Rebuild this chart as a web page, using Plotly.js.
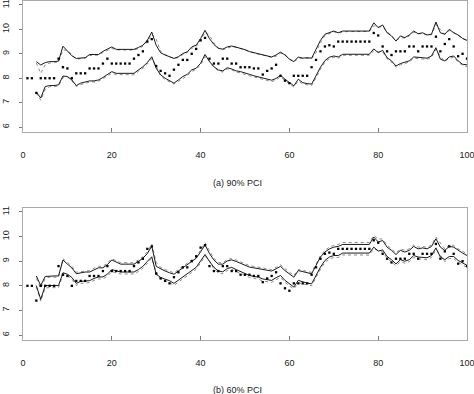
<!DOCTYPE html>
<html><head><meta charset="utf-8">
<script src="https://cdn.plot.ly/plotly-3.0.1.min.js"></script>
<style>html,body{margin:0;padding:0;background:#fff}#plot{width:474px;height:394px}</style>
</head><body><div id="plot"></div>
<script>
// time index
const t = Array.from({length: 100}, (_, i) => i + 1);
const tLine = t.slice(2); // intervals start at t = 3

// observed values (points), t = 1..100
const observed = [8.0,8.0,7.4,8.0,8.0,8.0,8.0,8.8,8.45,8.4,
8.0,8.2,8.2,8.2,8.4,8.4,8.4,8.6,8.8,8.6,
8.6,8.6,8.6,8.6,8.8,8.95,9.1,9.5,9.6,8.5,
8.3,8.2,8.1,8.35,8.55,8.75,8.75,9.0,9.2,9.55,
9.65,8.8,8.6,8.6,8.8,8.8,8.6,8.6,8.45,8.45,
8.45,8.4,8.4,8.15,8.3,8.4,8.55,8.1,7.9,7.8,
8.1,8.1,8.1,8.1,8.45,8.75,9.1,9.3,9.35,9.3,
9.5,9.5,9.5,9.5,9.5,9.5,9.5,9.5,9.85,9.75,
9.3,9.1,8.95,9.1,9.1,9.1,9.3,9.3,9.1,9.3,
9.3,9.3,9.7,9.1,9.4,9.6,9.3,8.9,9.0,8.8];

// (a) 90% PCI, t = 3..100
const upper90 = [8.68,8.54,8.64,8.68,8.68,8.7,9.31,9.1,8.92,8.81,
8.84,8.84,8.97,8.97,8.97,9.1,9.18,9.28,9.18,9.18,
9.18,9.18,9.18,9.26,9.35,9.55,9.89,9.35,9.04,8.95,
8.88,8.81,8.88,9.01,9.08,9.28,9.35,9.62,9.96,9.62,
9.38,9.22,9.19,9.28,9.32,9.28,9.23,9.17,9.09,9.05,
9.0,8.98,8.91,8.87,8.95,9.07,8.95,8.78,8.68,8.87,
8.82,8.84,8.82,9.2,9.55,9.8,9.87,9.93,9.86,9.93,
9.93,9.93,9.93,9.93,9.93,9.93,10.27,10.07,10.18,9.86,
9.73,9.52,9.73,9.66,9.77,9.93,9.82,9.86,9.77,9.8,
10.3,9.86,9.8,10.0,9.86,9.77,9.63,9.55];
const lower90 = [7.43,7.19,7.66,7.7,7.7,7.73,8.09,8.07,7.93,7.7,
7.8,7.84,7.89,7.89,7.93,8.03,8.14,8.27,8.2,8.2,
8.2,8.2,8.2,8.34,8.47,8.64,8.88,8.41,8.14,8.0,
7.91,7.8,7.93,8.07,8.16,8.34,8.41,8.61,8.97,8.68,
8.47,8.34,8.3,8.43,8.38,8.3,8.27,8.2,8.16,8.1,
8.05,8.0,7.96,7.92,7.99,8.12,7.96,7.82,7.69,7.96,
7.82,7.78,7.76,8.1,8.45,8.72,8.86,8.91,8.87,8.98,
8.98,8.98,8.98,8.98,8.98,8.98,9.2,9.05,9.14,8.84,
8.71,8.5,8.6,8.64,8.71,8.87,8.84,8.84,8.82,8.91,
9.25,8.78,8.71,8.87,8.91,8.71,8.57,8.55];
const upper90alt = [8.62,8.2,8.55,8.62,8.65,8.66,9.15,9.15,8.95,8.78,
8.8,8.82,8.93,8.95,8.95,9.05,9.15,9.22,9.16,9.15,
9.15,9.15,9.15,9.22,9.3,9.48,9.8,9.6,9.1,8.97,
8.87,8.8,8.85,8.97,9.05,9.22,9.3,9.55,9.88,9.75,
9.45,9.25,9.17,9.24,9.29,9.27,9.21,9.15,9.07,9.03,
8.98,8.95,8.9,8.85,8.9,9.02,8.97,8.8,8.68,8.8,
8.82,8.82,8.8,9.05,9.45,9.75,9.84,9.9,9.86,9.9,
9.91,9.91,9.91,9.91,9.91,9.91,10.15,10.1,10.1,9.9,
9.73,9.55,9.65,9.65,9.73,9.88,9.82,9.83,9.77,9.78,
10.2,10.0,9.8,9.95,9.88,9.75,9.62,9.52];
const lower90alt = [7.4,7.1,7.55,7.65,7.66,7.68,8.02,8.05,7.9,7.66,
7.74,7.79,7.84,7.85,7.88,7.98,8.08,8.2,8.15,8.14,
8.14,8.14,8.14,8.28,8.4,8.58,8.8,8.5,8.1,7.95,
7.86,7.76,7.87,8.0,8.1,8.28,8.36,8.55,8.88,8.72,
8.45,8.3,8.25,8.38,8.34,8.25,8.22,8.15,8.1,8.05,
8.0,7.95,7.9,7.86,7.93,8.06,7.9,7.75,7.64,7.88,
7.77,7.73,7.7,8.02,8.38,8.66,8.8,8.86,8.82,8.94,
8.94,8.94,8.94,8.94,8.94,8.94,9.12,9.08,9.08,8.8,
8.66,8.45,8.55,8.6,8.66,8.82,8.8,8.79,8.77,8.85,
9.18,8.9,8.68,8.82,8.86,8.66,8.52,8.48];

// (b) 60% PCI, t = 3..100
const upper60 = [8.4,8.01,8.38,8.4,8.4,8.4,9.05,8.88,8.73,8.49,
8.53,8.56,8.56,8.66,8.73,8.73,8.86,9.05,8.96,8.88,
8.88,8.88,8.88,8.99,9.12,9.31,9.61,8.79,8.69,8.6,
8.53,8.47,8.6,8.73,8.86,8.96,9.12,9.38,9.66,9.31,
9.05,8.88,8.88,9.01,9.05,8.99,8.91,8.83,8.76,8.73,
8.69,8.65,8.62,8.6,8.69,8.79,8.62,8.49,8.35,8.62,
8.58,8.51,8.49,8.83,9.17,9.37,9.5,9.57,9.6,9.68,
9.68,9.68,9.68,9.68,9.68,9.68,9.98,9.78,9.84,9.57,
9.44,9.27,9.44,9.37,9.44,9.6,9.5,9.54,9.5,9.6,
9.91,9.57,9.44,9.6,9.57,9.44,9.33,9.23];
const lower60 = [8.01,7.45,8.01,8.01,8.01,8.01,8.53,8.47,8.34,8.1,
8.18,8.21,8.21,8.3,8.36,8.36,8.47,8.66,8.6,8.56,
8.56,8.56,8.56,8.66,8.79,8.99,9.18,8.47,8.34,8.27,
8.21,8.1,8.23,8.36,8.49,8.6,8.75,9.01,9.27,8.99,
8.75,8.6,8.57,8.7,8.75,8.66,8.58,8.5,8.42,8.38,
8.35,8.28,8.24,8.22,8.33,8.42,8.22,8.08,7.95,8.22,
8.15,8.11,8.08,8.42,8.76,9.03,9.17,9.23,9.23,9.33,
9.33,9.33,9.33,9.33,9.33,9.33,9.57,9.41,9.46,9.19,
9.06,8.89,9.06,9.0,9.06,9.23,9.17,9.17,9.14,9.23,
9.54,9.17,9.06,9.19,9.19,9.03,8.92,8.83];
const upper60alt = [8.3,7.9,8.3,8.35,8.35,8.35,9.1,8.95,8.8,8.55,
8.58,8.62,8.62,8.72,8.79,8.79,8.92,9.1,9.02,8.94,
8.94,8.94,8.94,9.05,9.18,9.38,9.7,8.95,8.75,8.66,
8.59,8.53,8.66,8.79,8.92,9.02,9.18,9.45,9.75,9.42,
9.12,8.94,8.94,9.07,9.11,9.05,8.97,8.89,8.82,8.79,
8.75,8.71,8.68,8.66,8.75,8.85,8.7,8.55,8.42,8.66,
8.64,8.57,8.55,8.88,9.23,9.44,9.57,9.64,9.68,9.76,
9.76,9.76,9.76,9.76,9.76,9.76,10.05,9.9,9.9,9.65,
9.5,9.33,9.5,9.44,9.5,9.66,9.57,9.6,9.56,9.66,
9.98,9.72,9.5,9.66,9.64,9.5,9.4,9.3];
const lower60alt = [7.95,7.38,7.92,7.93,7.93,7.93,8.45,8.4,8.27,8.02,
8.1,8.13,8.13,8.22,8.28,8.28,8.39,8.58,8.52,8.48,
8.48,8.48,8.48,8.58,8.71,8.91,9.12,8.55,8.27,8.19,
8.13,8.02,8.15,8.28,8.41,8.52,8.67,8.93,9.2,9.02,
8.68,8.52,8.49,8.62,8.67,8.58,8.5,8.42,8.34,8.3,
8.27,8.2,8.16,8.14,8.25,8.34,8.14,8.0,7.87,8.12,
8.07,8.03,8.0,8.34,8.68,8.95,9.09,9.15,9.15,9.25,
9.25,9.25,9.25,9.25,9.25,9.25,9.5,9.45,9.38,9.11,
8.98,8.81,8.98,8.92,8.98,9.15,9.09,9.09,9.06,9.15,
9.46,9.25,8.98,9.11,9.11,8.95,8.84,8.75];

const xTicks = [0, 20, 40, 60, 80, 100];
const yTicks = [6, 7, 8, 9, 10, 11];
const titleA = '(a) 90% PCI';
const titleB = '(b) 60% PCI';

const dotStyle = {color: '#8a8a8a', width: 1, dash: 'dot'};
const solidStyle = {color: '#000', width: 0.9};
function lineTrace(y, style, xa, ya) {
  return {x: tLine, y: y, type: 'scatter', mode: 'lines', line: style, xaxis: xa, yaxis: ya, hoverinfo: 'skip'};
}
function ptTrace(xa, ya) {
  return {x: t, y: observed, type: 'scatter', mode: 'markers',
    marker: {symbol: 'square', size: 2.3, color: '#000'}, xaxis: xa, yaxis: ya};
}

const data = [
  lineTrace(upper90alt, dotStyle, 'x', 'y'),
  lineTrace(lower90alt, dotStyle, 'x', 'y'),
  lineTrace(upper90, solidStyle, 'x', 'y'),
  lineTrace(lower90, solidStyle, 'x', 'y'),
  ptTrace('x', 'y'),
  lineTrace(upper60alt, dotStyle, 'x2', 'y2'),
  lineTrace(lower60alt, dotStyle, 'x2', 'y2'),
  lineTrace(upper60, solidStyle, 'x2', 'y2'),
  lineTrace(lower60, solidStyle, 'x2', 'y2'),
  ptTrace('x2', 'y2')
];

const xBase = {range: [0, 100], tickvals: xTicks, ticks: 'inside', ticklen: 4, tickcolor: '#777',
  showline: true, mirror: true, linecolor: '#aaa', linewidth: 1, showgrid: false, zeroline: false,
  ticklabelstandoff: 14, ticklabeloverflow: 'allow', tickfont: {size: 9, color: '#222'}};
const yBase = {range: [5.8, 11.16], tickvals: yTicks, ticks: 'outside', ticklen: 3, tickcolor: '#777',
  showline: true, mirror: true, linecolor: '#aaa', linewidth: 1, showgrid: false, zeroline: false,
  tickangle: -90, ticklabelstandoff: 6, ticklabeloverflow: 'allow', tickfont: {size: 9, color: '#222'}};

const layout = {
  width: 474, height: 394,
  margin: {l: 23, r: 7, t: 1, b: 54},
  paper_bgcolor: '#fff', plot_bgcolor: '#fff',
  font: {family: 'Liberation Sans, Arial, sans-serif', size: 9, color: '#222'},
  showlegend: false,
  xaxis: Object.assign({}, xBase, {domain: [0, 1], anchor: 'y'}),
  yaxis: Object.assign({}, yBase, {domain: [0.6136, 1], anchor: 'x'}),
  xaxis2: Object.assign({}, xBase, {domain: [0, 1], anchor: 'y2'}),
  yaxis2: Object.assign({}, yBase, {domain: [0, 0.3894], anchor: 'x2'}),
  annotations: [
    {text: titleA, xref: 'paper', yref: 'paper', x: 0.482, y: 0.463, showarrow: false, xanchor: 'center', yanchor: 'middle', font: {size: 9, color: '#222'}},
    {text: titleB, xref: 'paper', yref: 'paper', x: 0.482, y: -0.1475, showarrow: false, xanchor: 'center', yanchor: 'middle', font: {size: 9, color: '#222'}}
  ]
};

Plotly.newPlot('plot', data, layout, {displayModeBar: false, staticPlot: true});
</script>
</body></html>
